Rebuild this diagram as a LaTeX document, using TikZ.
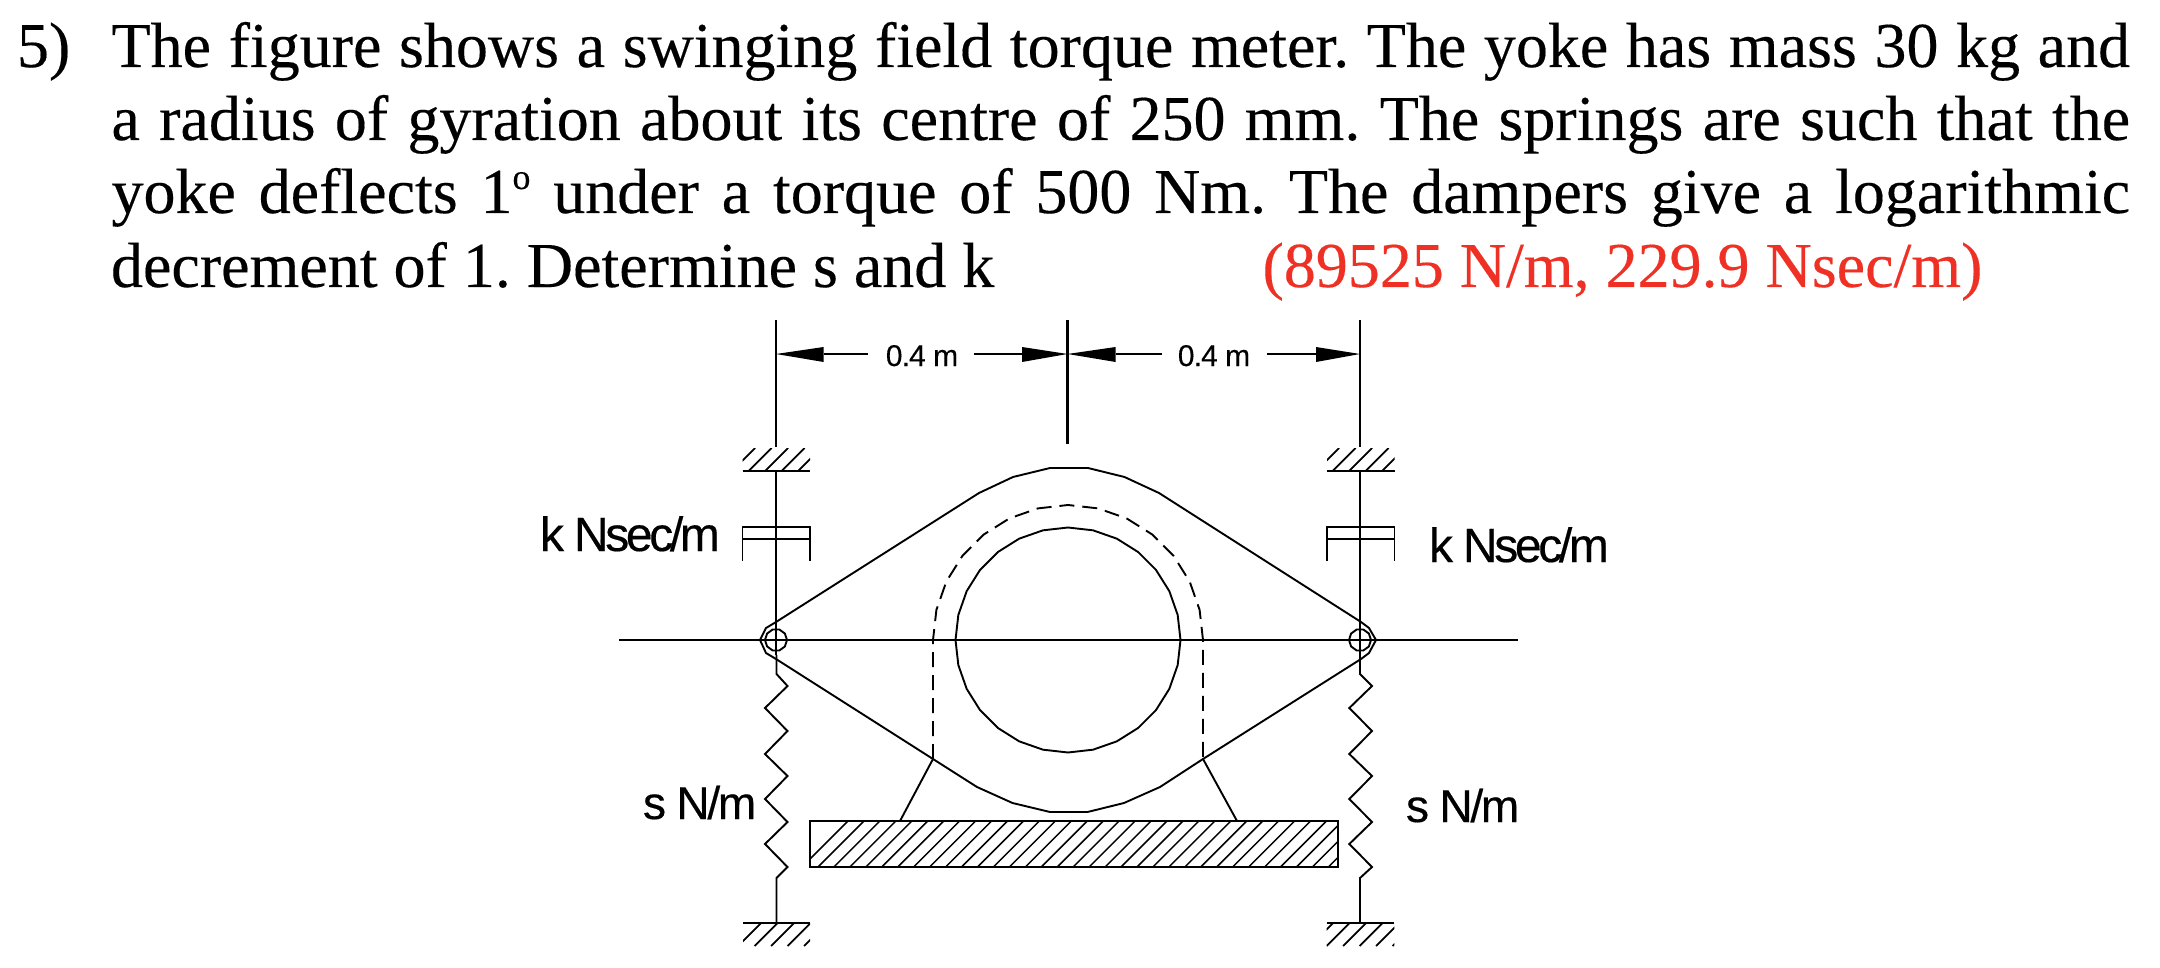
\documentclass[tikz,border=0pt]{standalone}
\usepackage{fontspec}
\setmainfont[FakeBold=0.25]{Liberation Serif}
\newfontfamily\dimfont[LetterSpace=-3,FakeBold=0.25]{Liberation Sans}
\newfontfamily\kfont[LetterSpace=-7,FakeBold=0.35]{Liberation Sans}
\newfontfamily\sfnt[LetterSpace=-5,FakeBold=0.35]{Liberation Sans}
\definecolor{ansred}{HTML}{EE3124}
\newcommand{\para}[3]{\node[anchor=base west,inner sep=0pt,outer sep=0pt] at (111.5,#1) {\makebox[#2pt][s]{#3}};}
\tikzset{
  ln/.style={line width=1.9pt,line join=miter},
  thinln/.style={line width=1.5pt},
  txt/.style={anchor=base west,inner sep=0pt,outer sep=0pt,font=\fontsize{64}{64}\selectfont},
  dimt/.style={inner sep=0pt,outer sep=0pt,anchor=base,font=\dimfont\fontsize{30}{30}\selectfont},
  lbl/.style={inner sep=0pt,outer sep=0pt,anchor=base west,font=\kfont\fontsize{48}{48}\selectfont},
  lbls/.style={inner sep=0pt,outer sep=0pt,anchor=base west,font=\sfnt\fontsize{46}{46}\selectfont},
  dashline/.style={ln,dash pattern=on 15pt off 8pt}
}
\newcommand{\ghatch}[5]{% x1,x2,ytop,ybot,first bottom x
  \begin{scope}
    \clip (#1,#3) rectangle (#2,#4);
    \foreach \i in {-1,0,...,5}{
      \draw[ln] ({#5+16.5*\i},#4) -- ({#5+16.5*\i+(#4-#3)},#3);
    }
  \end{scope}
}
\begin{document}
\begin{tikzpicture}[x=1pt,y=-1pt]
\frenchspacing
\useasboundingbox (0,0) rectangle (2160,968);
\fill[white] (0,0) rectangle (2160,968);
% --- question text
\begin{scope}[font=\fontsize{64}{64}\selectfont]
\node[txt] (num) at (17,67) {5)};
\para{67}{2018.5}{The figure shows a swinging field torque meter. The yoke has mass 30 kg and}
\para{140}{2018.5}{a radius of gyration about its centre of 250 mm. The springs are such that the}
\para{213}{2018.5}{yoke deflects 1\raisebox{24pt}{\fontsize{36}{36}\selectfont o} under a torque of 500 Nm. The dampers give a logarithmic}
\node[txt] (l4) at (111,287) {decrement of 1. Determine s and k};
\node[txt,text=ansred] (ans) at (1262.5,287) {(89525 N/m, 229.9 Nsec/m)};
\end{scope}
% --- reference lines
\draw[ln] (776,320) -- (776,447);
\draw[ln] (1360,320) -- (1360,447);
\draw[line width=3pt] (1067.5,320) -- (1067.5,444);
\draw[ln] (619,640) -- (1517.5,640);
% --- dimensions
\coordinate (ba) at (823.6,354); \coordinate (bb) at (1022,354);
\coordinate (bc) at (1115.5,354); \coordinate (bd) at (1316,354);
\node[dimt] (d1) at (922,366) {0.4 m};
\node[dimt] (d2) at (1214,366) {0.4 m};
\draw[ln] (ba) -- (868,354);
\draw[ln] (974,354) -- (bb);
\draw[ln] (bc) -- (1162,354);
\draw[ln] (1267,354) -- (bd);
\fill (776,354) -- (823.6,347) -- (823.6,362) -- cycle;
\fill (1067.5,354) -- (1022,347) -- (1022,362) -- cycle;
\fill (1067.5,354) -- (1115.5,347) -- (1115.5,362) -- cycle;
\fill (1360,354) -- (1316,347) -- (1316,362) -- cycle;
% --- top grounds
\ghatch{742.5}{810}{448}{471}{748.6}
\draw[ln] (742.5,471) -- (810,471);
\ghatch{1327}{1394.5}{448}{471}{1332.6}
\draw[ln] (1327,471) -- (1394.5,471);
% --- dampers
\draw[ln] (776,471) -- (776,655);
\draw[ln] (742.5,561) -- (742.5,527) -- (810,527) -- (810,561);
\draw[ln] (742.5,539) -- (810,539);
\draw[ln] (1360,471) -- (1360,655);
\draw[ln] (1327,561) -- (1327,527) -- (1394.5,527) -- (1394.5,561);
\draw[ln] (1327,539) -- (1394.5,539);
% --- yoke outline
\draw[ln] (776,622) -- (979,493) -- (1013,477) -- (1050,468) -- (1088,468) -- (1124.5,477)
  -- (1159,493) -- (1361,622) -- (1369,628) -- (1376,640) -- (1369,653) -- (1361,659)
  -- (1203,759) -- (1160,787) -- (1124,803) -- (1087.5,812) -- (1050,812) -- (1012.5,803)
  -- (977,787) -- (933,759) -- (776,659) -- (766,653) -- (760,640) -- (766,628) -- cycle;
% --- pivots
\draw[ln] plot[domain=0:360,samples=11] ({776+11*cos(\x)},{640+11*sin(\x)});
\draw[ln] plot[domain=0:360,samples=11] ({1360+11*cos(\x)},{640+11*sin(\x)});
% --- bearing, dashed and circle
\draw[ln] plot[domain=0:360,samples=29] ({1068+112.5*cos(\x)},{640+112.5*sin(\x)});
\draw[dashline] (933,759) -- (933,640) -- plot[domain=180:360,samples=15] ({1068+135*cos(\x)},{640+135*sin(\x)}) -- (1203,759);
% --- legs
\draw[ln] (933,759) -- (900,821);
\draw[ln] (1203,759) -- (1237,821);
% --- base plate
\begin{scope}
  \clip (810,821) rectangle (1338,867);
  \foreach \i in {0,...,35}{
    \draw[thinln] ({802+15.95*\i},867) -- ({848+15.95*\i},821);
  }
\end{scope}
\draw[ln] (810,821) rectangle (1338,867);
% --- springs
\draw[ln,line join=miter] (776.5,655) -- (776.5,674) -- (787.5,686) -- (765,708) -- (787.5,731) -- (765,754)
 -- (787.5,776) -- (765,799) -- (787.5,822) -- (765,844) -- (787.5,867) -- (776.5,878) -- (776.5,923);
\draw[ln,line join=miter] (1360,655) -- (1360,674) -- (1372,686) -- (1349.3,708) -- (1372,731) -- (1349.3,754)
 -- (1372,776) -- (1349.3,799) -- (1372,822) -- (1349.3,844) -- (1372,867) -- (1360,878) -- (1360,923);
% --- bottom grounds
\ghatch{743}{810}{923}{946}{754.6}
\draw[ln] (743,923) -- (810,923);
\ghatch{1326.6}{1394.4}{923}{946}{1326.6}
\draw[ln] (1326.6,923) -- (1394.4,923);
% --- labels
\node[lbl] (kl) at (540,551) {k Nsec/m};
\node[lbl] (kr) at (1429,562) {k Nsec/m};
\node[lbls] (sl) at (643,819) {s N/m};
\node[lbls] (sr) at (1406,822) {s N/m};
\end{tikzpicture}
\end{document}
